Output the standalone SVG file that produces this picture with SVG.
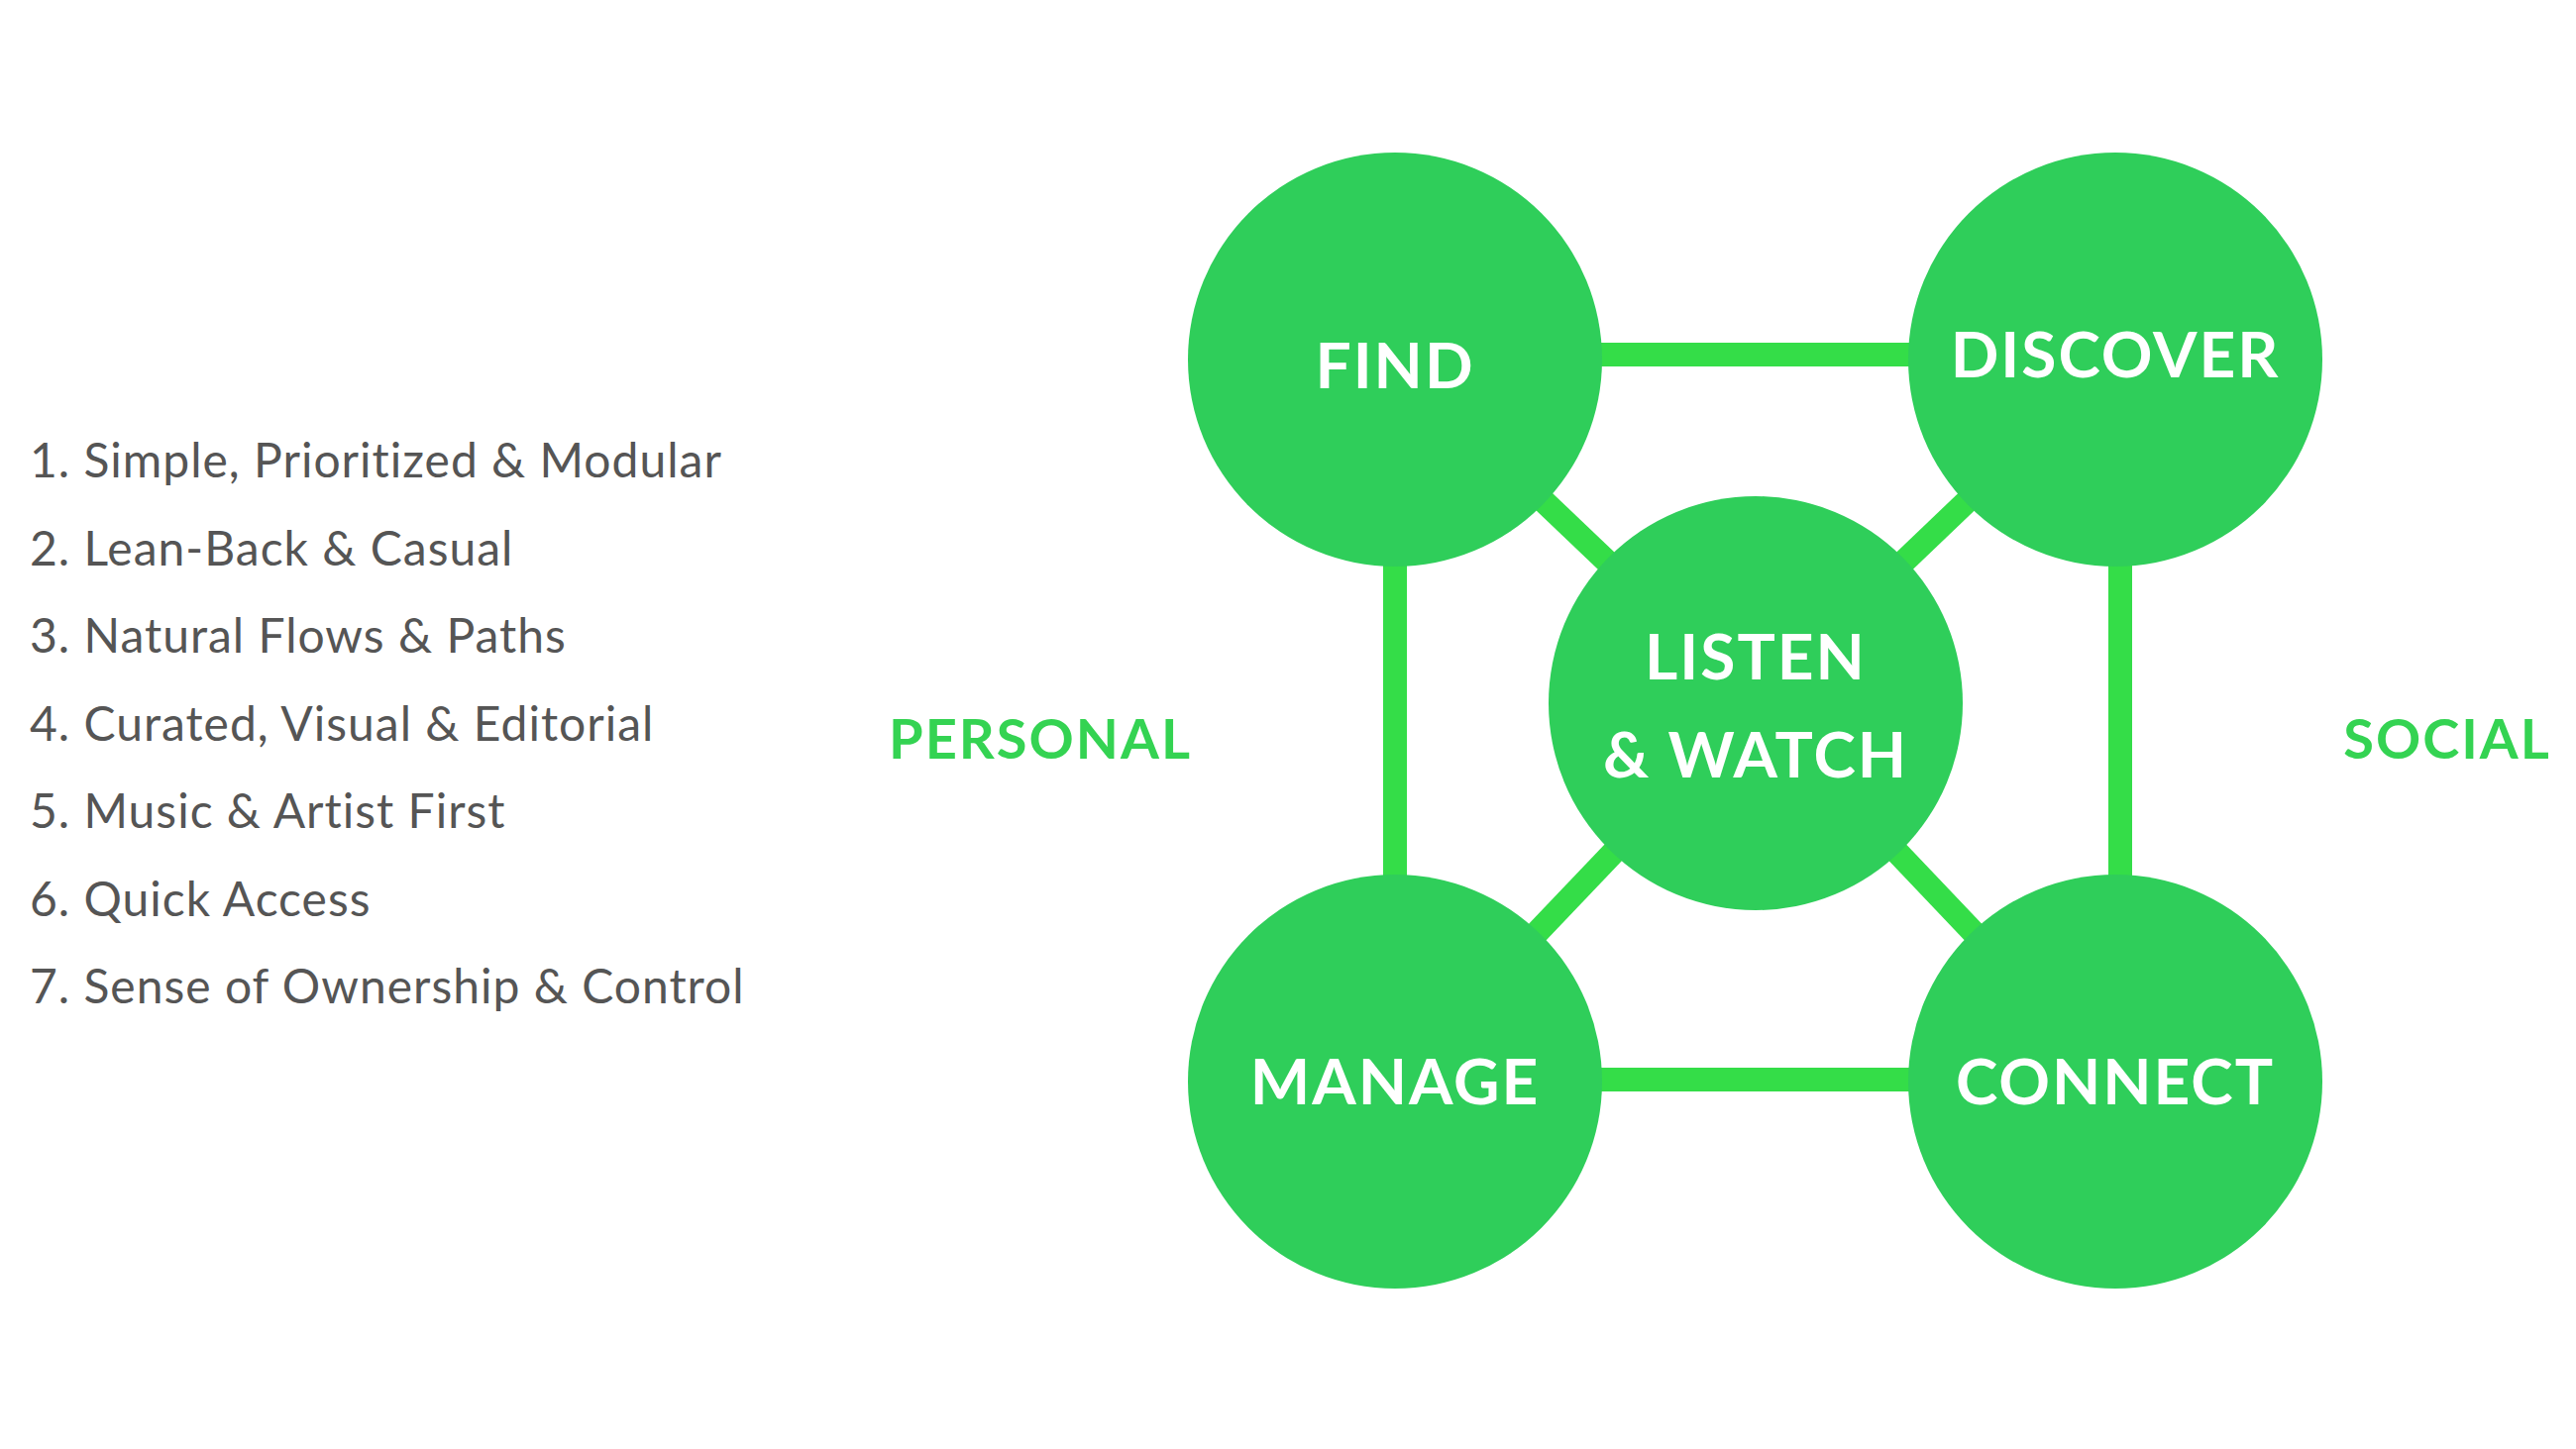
<svg xmlns="http://www.w3.org/2000/svg" width="2600" height="1463" viewBox="0 0 2600 1463">
<style>
.n{fill:#2fce5a}
.l{stroke:#34dd48;stroke-width:24;fill:none}
.t{font-family:"Lato","Liberation Sans",sans-serif;font-weight:bold;fill:#fff;font-size:64px;text-anchor:middle;letter-spacing:2px}
.s{font-family:"Lato","Liberation Sans",sans-serif;font-weight:bold;fill:#34d352;font-size:56px;text-anchor:middle;letter-spacing:2px}
.p{font-family:"Lato","Liberation Sans",sans-serif;fill:#555;font-size:48px;letter-spacing:1px}
</style>
<rect width="2600" height="1463" fill="#fff"/>
<g id="list">
<text class="p" x="30" y="482">1. Simple, Prioritized &amp; Modular</text>
<text class="p" x="30" y="571">2. Lean-Back &amp; Casual</text>
<text class="p" x="30" y="659">3. Natural Flows &amp; Paths</text>
<text class="p" x="30" y="748">4. Curated, Visual &amp; Editorial</text>
<text class="p" x="30" y="836">5. Music &amp; Artist First</text>
<text class="p" x="30" y="925">6. Quick Access</text>
<text class="p" x="30" y="1013">7. Sense of Ownership &amp; Control</text>
</g>
<g id="connectors">
<line class="l" x1="1408" y1="358" x2="2135" y2="358"/>
<line class="l" x1="1408" y1="1090" x2="2135" y2="1090"/>
<line class="l" x1="1408" y1="363" x2="1408" y2="1092"/>
<line class="l" x1="2140" y1="363" x2="2140" y2="1092"/>
<line class="l" x1="1408" y1="363" x2="1772" y2="710"/>
<line class="l" x1="2135" y1="363" x2="1772" y2="710"/>
<line class="l" x1="1408" y1="1092" x2="1772" y2="710"/>
<line class="l" x1="2135" y1="1092" x2="1772" y2="710"/>
</g>
<g id="find"><circle class="n" cx="1408" cy="363" r="209"/><text class="t" x="1408" y="392">FIND</text></g>
<g id="discover"><circle class="n" cx="2135" cy="363" r="209"/><text class="t" x="2135" y="381">DISCOVER</text></g>
<g id="listen"><circle class="n" cx="1772" cy="710" r="209"/><text class="t" x="1772" y="686">LISTEN</text><text class="t" x="1772" y="785">&amp; WATCH</text></g>
<g id="manage"><circle class="n" cx="1408" cy="1092" r="209"/><text class="t" x="1408" y="1115">MANAGE</text></g>
<g id="connect"><circle class="n" cx="2135" cy="1092" r="209"/><text class="t" x="2135" y="1115">CONNECT</text></g>
<g id="labels">
<text class="s" x="1050" y="766">PERSONAL</text>
<text class="s" x="2470" y="766">SOCIAL</text>
</g>
</svg>
